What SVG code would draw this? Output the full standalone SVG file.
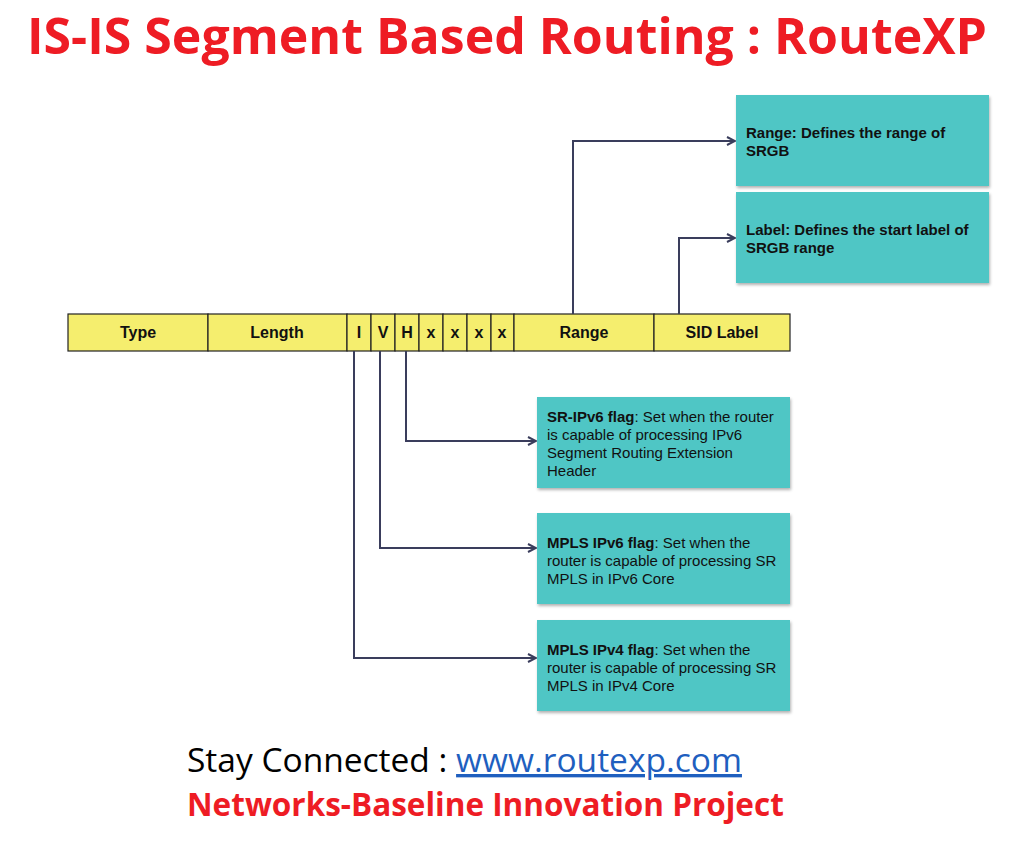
<svg xmlns="http://www.w3.org/2000/svg" width="1012" height="850" viewBox="0 0 1012 850">
<defs>
<marker id="ar" markerWidth="10" markerHeight="10" refX="9" refY="5" orient="auto" markerUnits="userSpaceOnUse"><path d="M1,1 L9,5 L1,9" fill="none" stroke="#3a3d5c" stroke-width="2"/></marker>
<filter id="sh" x="-5%" y="-5%" width="110%" height="115%"><feDropShadow dx="1" dy="2" stdDeviation="1.5" flood-color="#000" flood-opacity="0.3"/></filter>
</defs>
<style>
.f{fill:#f5ee6e;stroke:#222;stroke-width:1.2}
.ft{font-family:"Liberation Sans",Arial,sans-serif;font-weight:bold;font-size:16px;text-anchor:middle;fill:#111}
.b{fill:#4fc6c5;filter:url(#sh)}
.bt{font-family:"Liberation Sans",Arial,sans-serif;font-size:15px;fill:#111}
.c{fill:none;stroke:#3a3d5c;stroke-width:2;marker-end:url(#ar)}
</style>
<rect width="1012" height="850" fill="#fff"/>
<text x="507" y="54" font-family="'Open Sans','Liberation Sans',sans-serif" font-weight="bold" font-size="50" fill="#ee1c24" text-anchor="middle" textLength="960" lengthAdjust="spacingAndGlyphs">IS-IS Segment Based Routing : RouteXP</text>
<g id="fields">
<rect class="f" x="68" y="314" width="140" height="37"/><text class="ft" x="138" y="338">Type</text>
<rect class="f" x="208" y="314" width="139" height="37"/><text class="ft" x="277" y="338">Length</text>
<rect class="f" x="347" y="314" width="24" height="37"/><text class="ft" x="359" y="338">I</text>
<rect class="f" x="371" y="314" width="24" height="37"/><text class="ft" x="383" y="338">V</text>
<rect class="f" x="395" y="314" width="24" height="37"/><text class="ft" x="407" y="338">H</text>
<rect class="f" x="419" y="314" width="24" height="37"/><text class="ft" x="431" y="338">x</text>
<rect class="f" x="443" y="314" width="24" height="37"/><text class="ft" x="455" y="338">x</text>
<rect class="f" x="467" y="314" width="24" height="37"/><text class="ft" x="479" y="338">x</text>
<rect class="f" x="491" y="314" width="23" height="37"/><text class="ft" x="502" y="338">x</text>
<rect class="f" x="514" y="314" width="140" height="37"/><text class="ft" x="584" y="338">Range</text>
<rect class="f" x="654" y="314" width="136" height="37"/><text class="ft" x="722" y="338">SID Label</text>
</g>
<g id="connectors">
<path class="c" d="M573,314 V141 H735"/>
<path class="c" d="M679,314 V238 H735"/>
<path class="c" d="M406,351 V441 H536"/>
<path class="c" d="M380,351 V548 H536"/>
<path class="c" d="M354,351 V658 H536"/>
</g>
<g id="n-range"><rect class="b" x="736" y="95" width="253" height="91"/><text class="bt" font-weight="bold" x="746" y="138">Range: Defines the range of</text><text class="bt" font-weight="bold" x="746" y="156">SRGB</text></g>
<g id="n-label"><rect class="b" x="736" y="192" width="253" height="91"/><text class="bt" font-weight="bold" x="746" y="235">Label: Defines the start label of</text><text class="bt" font-weight="bold" x="746" y="253">SRGB range</text></g>
<g id="n-h"><rect class="b" x="537" y="397" width="253" height="91"/><text class="bt" x="547" y="422"><tspan font-weight="bold">SR-IPv6 flag</tspan>: Set when the router</text><text class="bt" x="547" y="440">is capable of processing IPv6</text><text class="bt" x="547" y="458">Segment Routing Extension</text><text class="bt" x="547" y="476">Header</text></g>
<g id="n-v"><rect class="b" x="537" y="513" width="253" height="91"/><text class="bt" x="547" y="548"><tspan font-weight="bold">MPLS IPv6 flag</tspan>: Set when the</text><text class="bt" x="547" y="566">router is capable of processing SR</text><text class="bt" x="547" y="584">MPLS in IPv6 Core</text></g>
<g id="n-i"><rect class="b" x="537" y="620" width="253" height="91"/><text class="bt" x="547" y="655"><tspan font-weight="bold">MPLS IPv4 flag</tspan>: Set when the</text><text class="bt" x="547" y="673">router is capable of processing SR</text><text class="bt" x="547" y="691">MPLS in IPv4 Core</text></g>
<text x="187" y="772" font-family="'Open Sans','Liberation Sans',sans-serif" font-size="33.5" fill="#000">Stay Connected : <tspan fill="#1f5fbf" text-decoration="underline">www.routexp.com</tspan></text>
<text x="187" y="816" font-family="'Open Sans','Liberation Sans',sans-serif" font-weight="bold" font-size="31.5" fill="#ee1c24">Networks-Baseline Innovation Project</text>
</svg>
